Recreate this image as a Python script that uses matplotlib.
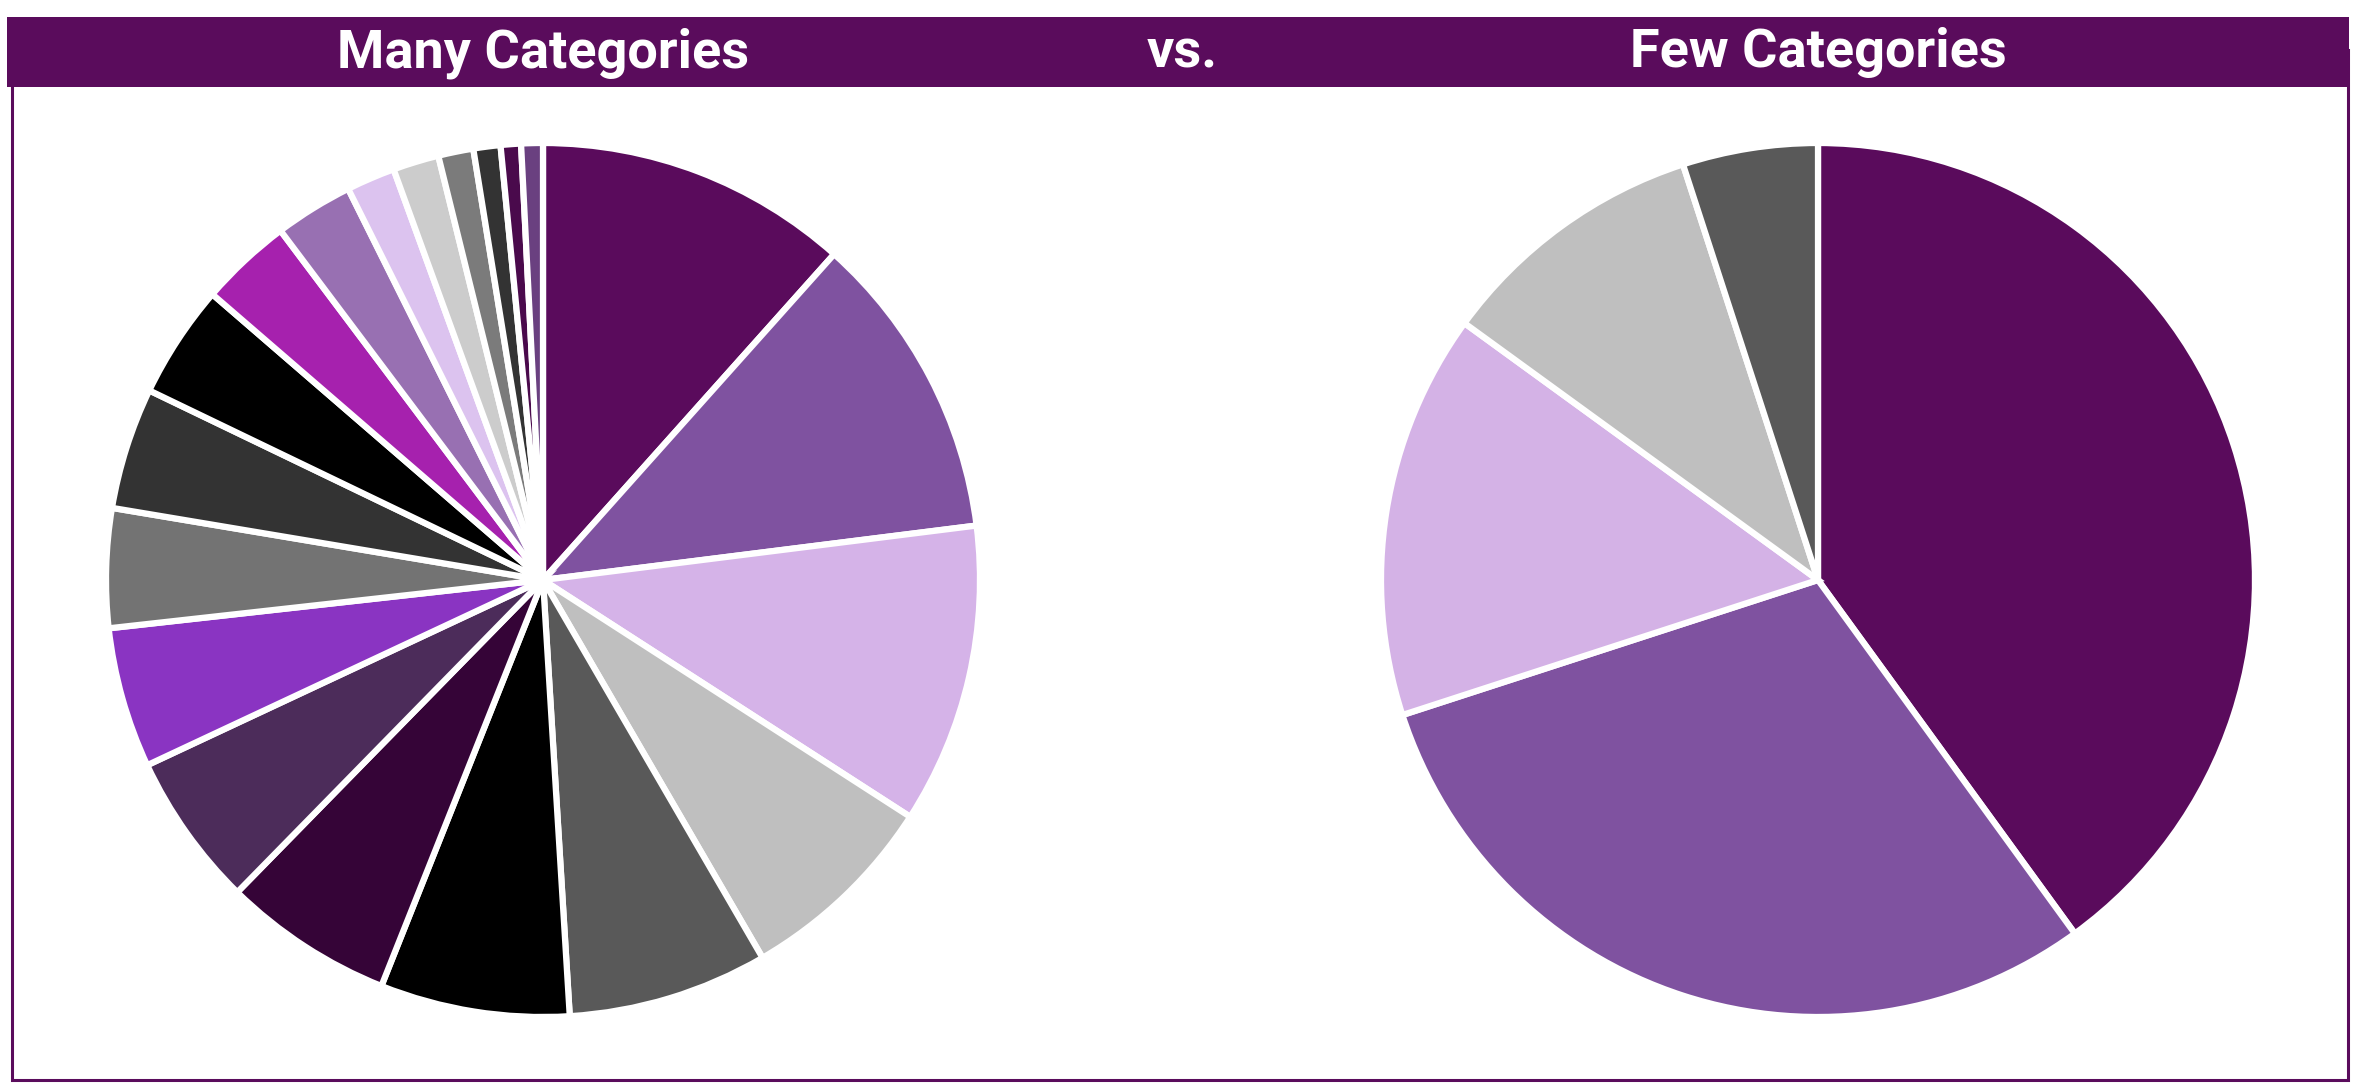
import matplotlib.pyplot as plt
from matplotlib.patches import Rectangle

# left pie: many categories (share of total, %)
many_values = [11.6, 11.4, 11.1, 7.5, 7.4, 7.0, 6.3, 5.7, 5.2, 4.4,
               4.5, 4.2, 3.4, 2.9, 1.8, 1.7, 1.3, 1.0, 0.75, 0.8]
many_colors = ['#5a0b5c', '#7f52a0', '#d5b3e8', '#bfbfbf', '#595959',
               '#000000', '#350437', '#4c2c5a', '#8a34c2', '#737373',
               '#333333', '#000000', '#a621ae', '#9870b2', '#dcc3ef',
               '#cccccc', '#7b7b7b', '#333333', '#4a0a4c', '#6a4080']

# right pie: few categories
few_values = [40, 30, 15, 10, 5]
few_colors = ['#5a0b5c', '#7f52a0', '#d4b2e6', '#bfbfbf', '#595959']

titles = ['Many Categories', 'vs.', 'Few Categories']

W, H = 2364, 1090
header = '#5a0c5c'

fig = plt.figure(figsize=(W / 100, H / 100), dpi=100)

# outer frame + header band
fig.patches.append(Rectangle((12 / W, 1 - 1080 / H), (2348 - 12) / W, (1080 - 50) / H,
                             transform=fig.transFigure, fill=False,
                             edgecolor=header, linewidth=2.2))
fig.patches.append(Rectangle((7 / W, 1 - 87 / H), (2349 - 7) / W, 70 / H,
                             transform=fig.transFigure, facecolor=header,
                             edgecolor='none'))

r = 437
for cx, vals, cols in [(543, many_values, many_colors), (1818, few_values, few_colors)]:
    pad = r * 1.05
    ax = fig.add_axes([(cx - pad) / W, (H - 580 - pad) / H, 2 * pad / W, 2 * pad / H])
    ax.pie(vals, colors=cols, startangle=90, counterclock=False,
           wedgeprops=dict(edgecolor='white', linewidth=4.5))
    ax.set_xlim(-1.05, 1.05)
    ax.set_ylim(-1.05, 1.05)
    ax.set_aspect('equal')
    ax.axis('off')

for x, t in zip([543, 1182, 1818], titles):
    fig.text(x / W, 1 - 53 / H, t, color='white', fontsize=39, fontweight='bold',
             family='Roboto', ha='center', va='center')

fig.savefig('out.png', dpi=100)
